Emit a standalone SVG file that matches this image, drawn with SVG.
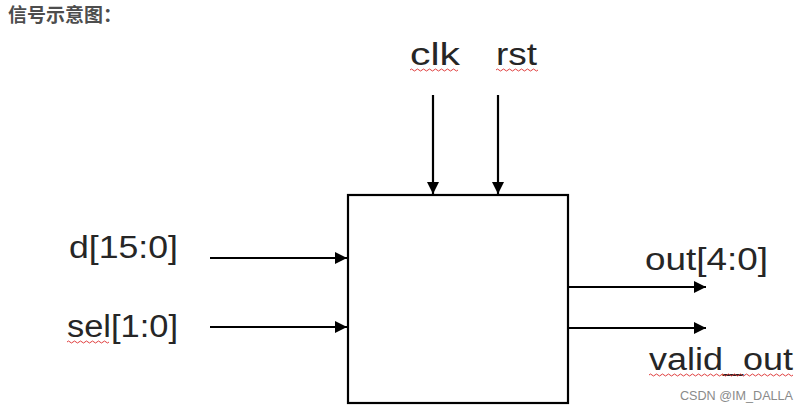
<svg xmlns="http://www.w3.org/2000/svg" width="806" height="412" viewBox="0 0 806 412">
<style>
.lbl{font-family:"Liberation Sans","Noto Sans",sans-serif;font-size:31px;fill:#262626}
.ln{stroke:#000;stroke-width:2.2;fill:none}
.sq{stroke:#e04040;stroke-width:1;fill:none}
</style>
<defs>
<marker id="ah" viewBox="0 0 10 10" refX="10" refY="5" markerWidth="5.5" markerHeight="5.5" orient="auto" markerUnits="strokeWidth">
<path d="M0,0 L10,5 L0,10 z" fill="#000"/>
</marker>
</defs>
<rect width="806" height="412" fill="#fff"/>
<text x="8" y="22" font-family="'Noto Sans CJK SC',sans-serif" font-size="19" font-weight="bold" fill="#4d4d4d">信号示意图：</text>
<g id="block"><rect x="348" y="195" width="220" height="208" fill="#fff" stroke="#000" stroke-width="2.2"/></g>
<g id="clk"><text class="lbl" x="410" y="65" textLength="50" lengthAdjust="spacingAndGlyphs">clk</text></g>
<g id="rst"><text class="lbl" x="496" y="65" textLength="41" lengthAdjust="spacingAndGlyphs">rst</text></g>
<g id="d"><text class="lbl" x="69" y="258" textLength="109" lengthAdjust="spacingAndGlyphs">d[15:0]</text></g>
<g id="sel"><text class="lbl" x="67" y="337" textLength="111" lengthAdjust="spacingAndGlyphs">sel[1:0]</text></g>
<g id="out"><text class="lbl" x="645" y="270" textLength="123" lengthAdjust="spacingAndGlyphs">out[4:0]</text></g>
<g id="valid_out"><text class="lbl" x="649" y="370" textLength="144" lengthAdjust="spacingAndGlyphs">valid_out</text></g>
<g id="squiggles">
<path class="sq" d="M410,70 q1.5,-2 3,0 t3,0 t3,0 t3,0 t3,0 t3,0 t3,0 t3,0 t3,0 t3,0 t3,0 t3,0 t3,0 t3,0 t3,0 t3,0"/>
<path class="sq" d="M496,70 q1.5,-2 3,0 t3,0 t3,0 t3,0 t3,0 t3,0 t3,0 t3,0 t3,0 t3,0 t3,0 t3,0 t3,0 t3,0"/>
<path class="sq" d="M67,342 q1.5,-2 3,0 t3,0 t3,0 t3,0 t3,0 t3,0 t3,0 t3,0 t3,0 t3,0 t3,0 t3,0 t3,0 t3,0"/>
<path class="sq" d="M649,375 q1.5,-2 3,0 t3,0 t3,0 t3,0 t3,0 t3,0 t3,0 t3,0 t3,0 t3,0 t3,0 t3,0 t3,0 t3,0 t3,0 t3,0 t3,0 t3,0 t3,0 t3,0 t3,0 t3,0 t3,0 t3,0 t3,0 t3,0 t3,0 t3,0 t3,0 t3,0 t3,0 t3,0 t3,0 t3,0 t3,0 t3,0 t3,0 t3,0 t3,0 t3,0 t3,0 t3,0 t3,0 t3,0 t3,0 t3,0 t3,0 t3,0"/>
</g>
<g id="connectors">
<line class="ln" x1="433" y1="95" x2="433" y2="194" marker-end="url(#ah)"/>
<line class="ln" x1="498" y1="95" x2="498" y2="194" marker-end="url(#ah)"/>
<line class="ln" x1="210" y1="258" x2="347" y2="258" marker-end="url(#ah)"/>
<line class="ln" x1="210" y1="327" x2="347" y2="327" marker-end="url(#ah)"/>
<line class="ln" x1="569" y1="287" x2="706" y2="287" marker-end="url(#ah)"/>
<line class="ln" x1="569" y1="328" x2="706" y2="328" marker-end="url(#ah)"/>
</g>
<text x="680" y="400" font-family="'Liberation Sans',sans-serif" font-size="12" fill="#8a8a8a" textLength="113" lengthAdjust="spacingAndGlyphs">CSDN @IM_DALLA</text>
</svg>
